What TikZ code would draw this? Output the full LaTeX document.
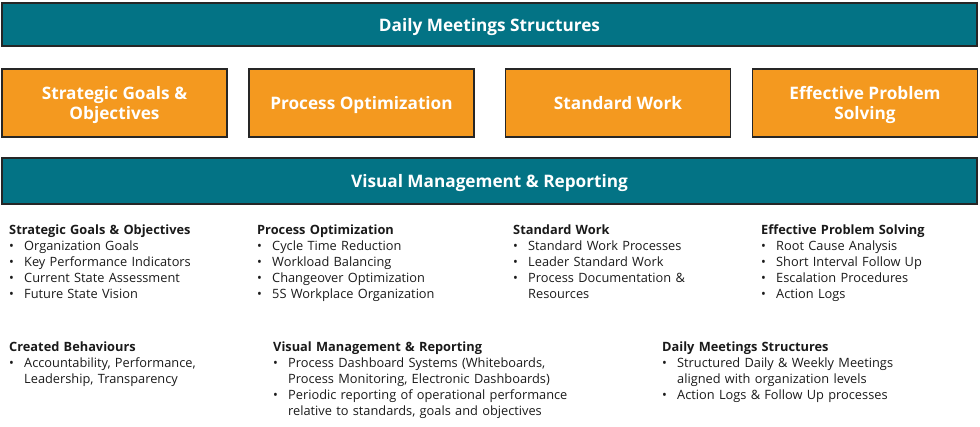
\documentclass[tikz,border=0pt]{standalone}
\usepackage{fontspec}
\setmainfont{Open Sans}
\definecolor{teal}{HTML}{037385}
\definecolor{amber}{HTML}{F4991F}
\definecolor{ink}{HTML}{1A1A1A}
\newcommand{\blt}{\par\noindent\makebox[15pt][l]{\textbullet}}
\newcommand{\cont}{\par\noindent\hspace*{15pt}}
\tikzset{ bar/.style = { rectangle % teal band
        , draw = black!85
        , line width = 1.6pt
        , fill = teal
        , text = white
        , text depth = 0pt
        , font = \fontsize{17.2}{20}\selectfont\bfseries
        , minimum width = 975pt
        , minimum height = 44pt
        }
        , pillar/.style = { rectangle % orange box
        , draw = black!85
        , line width = 1.6pt
        , fill = amber
        , text = white
        , text depth = 0pt
        , align = center
        , font = \fontsize{17.2}{20.5}\selectfont\bfseries
        , minimum width = 225pt
        , minimum height = 68pt
        }
        , notes/.style = { anchor = base west % bullet list
        , inner sep = 0pt
        , text width = 320pt
        , align = left
        , text = ink
        , font = \fontsize{12.8}{16}\selectfont
        }
        }

\begin{document}
\begin{tikzpicture}[x=1pt, y=-1pt]
        \useasboundingbox (0,0) rectangle (980,426);

        \node [bar, minimum height=43pt] (top) at (489.5,24.5) {Daily Meetings Structures};

        \node [pillar] (p1) at (114.5,103) {Strategic Goals \&\\Objectives};
        \node [pillar] (p2) at (361.5,103) {Process Optimization};
        \node [pillar] (p3) at (618,103) {Standard Work};
        \node [pillar] (p4) at (865,103) {Effective Problem\\Solving};

        \node [bar, minimum height=46pt] (vis) at (489.5,181) {Visual Management \& Reporting};

        \node [notes] (l1) at (9,234.5) {\textbf{Strategic Goals \& Objectives}
            \blt Organization Goals
            \blt Key Performance Indicators
            \blt Current State Assessment
            \blt Future State Vision};
        \node [notes] (l2) at (257,234.5) {\textbf{Process Optimization}
            \blt Cycle Time Reduction
            \blt Workload Balancing
            \blt Changeover Optimization
            \blt 5S Workplace Organization};
        \node [notes] (l3) at (513,234.5) {\textbf{Standard Work}
            \blt Standard Work Processes
            \blt Leader Standard Work
            \blt Process Documentation \&
            \cont Resources};
        \node [notes] (l4) at (761,234.5) {\textbf{Effective Problem Solving}
            \blt Root Cause Analysis
            \blt Short Interval Follow Up
            \blt Escalation Procedures
            \blt Action Logs};

        \node [notes] (b1) at (9,351.7) {\textbf{Created Behaviours}
            \blt Accountability, Performance,
            \cont Leadership, Transparency};
        \node [notes] (b2) at (273,351.7) {\textbf{Visual Management \& Reporting}
            \blt Process Dashboard Systems (Whiteboards,
            \cont Process Monitoring, Electronic Dashboards)
            \blt Periodic reporting of operational performance
            \cont relative to standards, goals and objectives};
        \node [notes] (b3) at (662,351.7) {\textbf{Daily Meetings Structures}
            \blt Structured Daily \& Weekly Meetings
            \cont aligned with organization levels
            \blt Action Logs \& Follow Up processes};
\end{tikzpicture}
\end{document}
